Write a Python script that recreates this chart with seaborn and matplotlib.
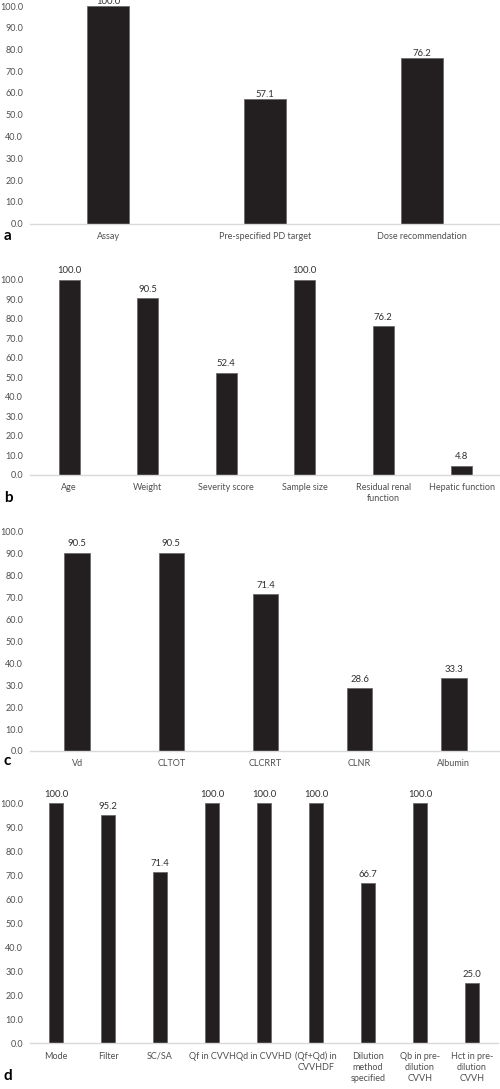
import matplotlib
matplotlib.use('Agg')
import matplotlib.pyplot as plt
import seaborn as sns
import numpy as np

# data for each panel
cats_a = ['Assay', 'Pre-specified PD target', 'Dose recommendation']
vals_a = [100.0, 57.1, 76.2]

cats_b = ['Age', 'Weight', 'Severity score', 'Sample size',
          'Residual renal\nfunction', 'Hepatic function']
vals_b = [100.0, 90.5, 52.4, 100.0, 76.2, 4.8]

cats_c = ['Vd', 'CLTOT', 'CLCRRT', 'CLNR', 'Albumin']
vals_c = [90.5, 90.5, 71.4, 28.6, 33.3]

cats_d = ['Mode', 'Filter', 'SC/SA', 'Qf in CVVH', 'Qd in CVVHD',
          '(Qf+Qd) in\nCVVHDF', 'Dilution\nmethod\nspecified',
          'Qb in pre-\ndilution\nCVVH', 'Hct in pre-\ndilution\nCVVH']
vals_d = [100.0, 95.2, 71.4, 100.0, 100.0, 100.0, 66.7, 100.0, 25.0]

yticks = np.arange(0, 101, 10)

sns.set_style('white')
plt.rcParams['font.family'] = ['Lato', 'DejaVu Sans']

W, H = 500, 1089
fig = plt.figure(figsize=(W / 100, H / 100), dpi=100)

def box(l, r, t, b):
    return [l / W, 1 - b / H, (r - l) / W, (b - t) / H]

panels = [
    (cats_a, vals_a, box(30, 500, 6, 223.5), 'a', 236, 0),
    (cats_b, vals_b, box(30, 501, 279.6, 475), 'b', 498, 3),
    (cats_c, vals_c, box(30, 501, 531.7, 751), 'c', 761, 3),
    (cats_d, vals_d, box(30, 498, 803.3, 1043.3), 'd', 1076, 3),
]

for cats, vals, pos, letter, ly, pad in panels:
    ax = fig.add_axes(pos)
    sns.barplot(x=cats, y=vals, color='#231f20', saturation=1, width=0.27,
                edgecolor='#6b6b6b', linewidth=0.6, ax=ax)
    ax.set_ylim(0, 100)
    ax.set_xlim(-0.5, len(cats) - 0.5)
    ax.set_yticks(yticks)
    ax.set_yticklabels([f'{v:.1f}' for v in yticks])
    for s in ['top', 'right', 'left']:
        ax.spines[s].set_visible(False)
    ax.spines['bottom'].set_color('#d9d9d9')
    ax.spines['bottom'].set_linewidth(1.0)
    ax.tick_params(axis='y', length=0, pad=5, labelsize=6.5, labelcolor='#505050')
    ax.tick_params(axis='x', length=0, pad=6, labelsize=6.5, labelcolor='#505050')
    for lab in ax.get_xticklabels():
        lab.set_linespacing(1.3)
    if letter == 'a':
        ax.set_xticks(np.arange(-0.5, len(cats), 1), minor=True)
        ax.tick_params(axis='x', which='minor', length=3, color='#d9d9d9', width=1)
    ax.bar_label(ax.containers[0], fmt='%.1f', padding=pad,
                 fontsize=6.8, color='#303030', clip_on=False)
    fig.text(4 / W, 1 - ly / H, letter, fontsize=11, fontweight='bold',
             ha='left', va='center', color='black')

fig.savefig('out.png', dpi=100)
